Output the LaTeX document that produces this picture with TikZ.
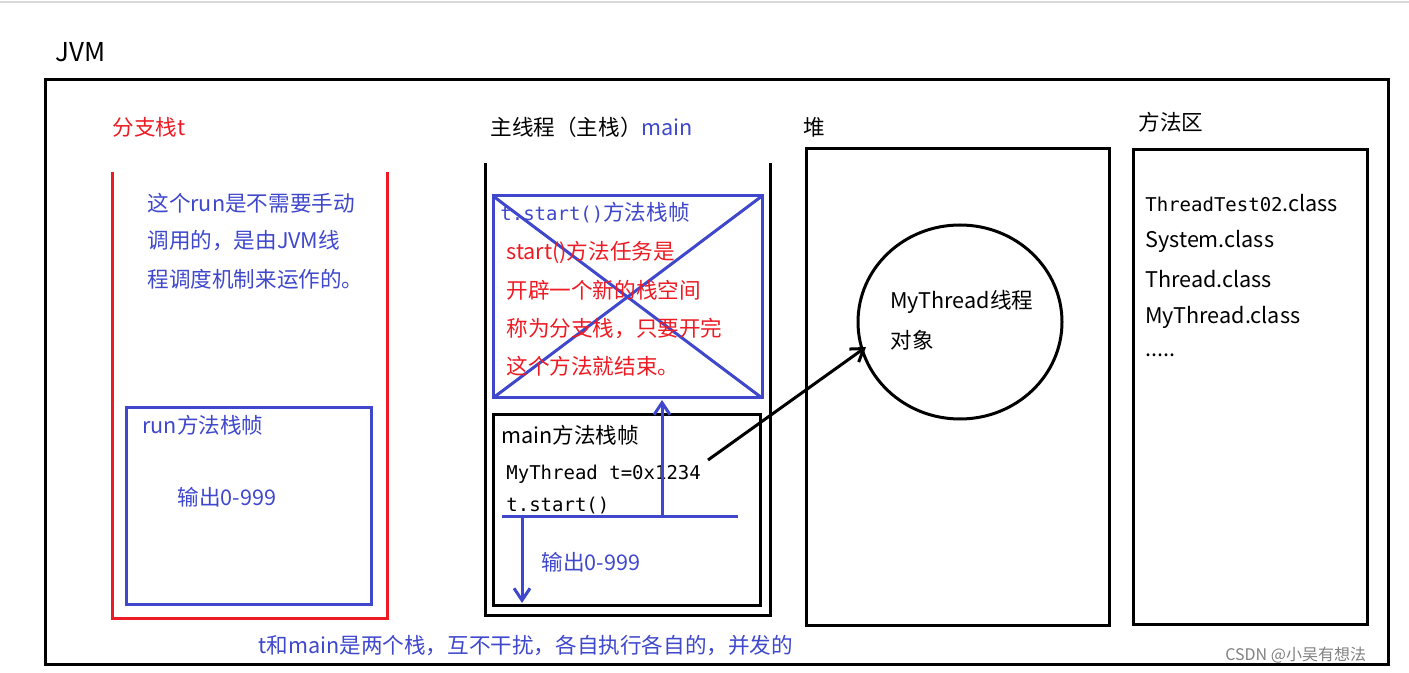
\documentclass[tikz,border=0pt]{standalone}
\usepackage{fontspec}
\setmainfont{Noto Sans CJK SC}
\newfontfamily\cmono{DejaVu Sans Mono}
\usetikzlibrary{arrows.meta}
\definecolor{pb}{HTML}{3F48CC}
\definecolor{pr}{HTML}{ED1C24}
\begin{document}
\begin{tikzpicture}[x=0.5pt,y=-0.5pt,
  t/.style={anchor=west,inner sep=0,font=\fontsize{10.8}{12}\selectfont},
  bl/.style={line width=1.5pt},
  ar/.style={-{Straight Barb[length=6pt,width=8pt]}}]
\useasboundingbox (0,0) rectangle (1409,673);
\draw[gray!30,line width=1pt] (0,2) -- (1409,2);
\node[t,font=\fontsize{13}{15}\selectfont] (jvm) at (55,52) {JVM};
\draw[bl] (45,80) rectangle (1388,664);
% branch stack
\node[t,text=pr] (bt) at (112,127) {分支栈t};
\draw[pr,bl] (112,172) -- (112,618) -- (387,618) -- (387,172);
\node[t,text=pb] at (147,203) {这个run是不需要手动};
\node[t,text=pb] at (147,241) {调用的，是由JVM线};
\node[t,text=pb] at (147,279) {程调度机制来运作的。};
\draw[pb,bl] (126,408) rectangle (371,604);
\node[t,text=pb] at (142,425) {run方法栈帧};
\node[t,text=pb] at (177,497) {输出0-999};
% main stack
\node[t] (mt) at (490,127) {主线程（主栈）\textcolor{pb}{main}};
\draw[bl] (485,163) -- (485,615) -- (770,615) -- (770,163);
\draw[pb,bl] (493,196) rectangle (762,398);
\draw[pb,bl] (493,196) -- (762,398) (762,196) -- (493,398);
\node[t,text=pb] at (500,213) {{\cmono\fontsize{9.5}{12}\selectfont t.start()}方法栈帧};
\node[t,text=pr] at (506,252) {start()方法任务是};
\node[t,text=pr] at (506,290) {开辟一个新的栈空间};
\node[t,text=pr] at (506,328) {称为分支栈，只要开完};
\node[t,text=pr] at (506,366) {这个方法就结束。};
\draw[bl] (493,415) rectangle (760,605);
\node[t] at (501,435) {main方法栈帧};
\node[t,font=\cmono\fontsize{9.5}{12}\selectfont] (code) at (506,474) {MyThread t=0x1234};
\node[t,font=\cmono\fontsize{9.5}{12}\selectfont] at (506,506) {t.start()};
\coordinate (hl) at (502,517); \coordinate (hr) at (738,517);
\draw[pb,bl] (hl) -- (hr);
\coordinate (up0) at (662,517); \coordinate (up1) at (662,400);
\draw[pb,bl,ar] (up0) -- (up1);
\coordinate (dn0) at (522,517); \coordinate (dn1) at (522,603);
\draw[pb,bl,ar] (dn0) -- (dn1);
\node[t,text=pb] at (541,562) {输出0-999};
% heap
\node[t] at (803,127) {堆};
\draw[bl] (806,149) rectangle (1109,625);
\draw[bl] (960,322) ellipse (102 and 97);
\node[t] (obj) at (890,302) {MyThread线程};
\node[t] at (890,340) {对象};
\coordinate (a0) at (708,460); \coordinate (a1) at (866,347);
\draw[bl,ar] (a0) -- (a1);
% method area
\node[t] at (1138,122) {方法区};
\draw[bl] (1133,150) rectangle (1367,624);
\node[t] at (1145,203) {{\cmono\fontsize{9.5}{12}\selectfont ThreadTest02}.class};
\node[t] at (1145,241) {System.class};
\node[t] at (1145,279) {Thread.class};
\node[t] at (1145,317) {MyThread.class};
\node[t] at (1145,355) {.....};
\node[t,text=pb] at (258,645) {t和main是两个栈，互不干扰，各自执行各自的，并发的};
\node[t,text=gray,font=\fontsize{8}{10}\selectfont] at (1225,655) {CSDN @小吴有想法};
\end{tikzpicture}
\end{document}
